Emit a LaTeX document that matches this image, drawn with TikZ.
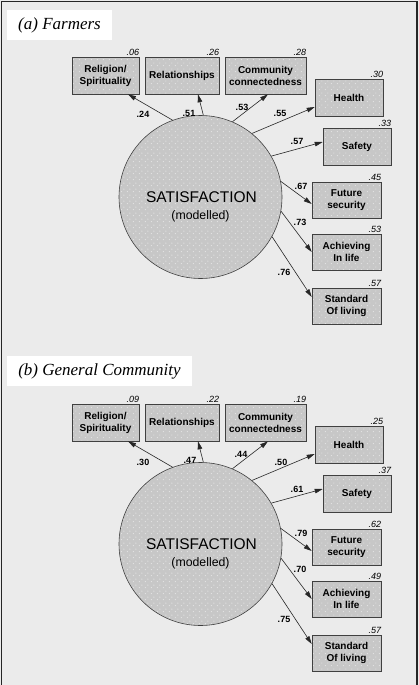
\documentclass[tikz,border=0pt]{standalone}
\usepackage{fontspec}
\setmainfont{Liberation Serif}
\setsansfont{Liberation Sans}
\usetikzlibrary{arrows.meta,patterns}
\pgfdeclarepatternformonly{sparsedots}{\pgfqpoint{0pt}{0pt}}{\pgfqpoint{6pt}{6pt}}{\pgfqpoint{6pt}{6pt}}{%
  \pgfpathcircle{\pgfqpoint{1.5pt}{1.5pt}}{0.6pt}%
  \pgfpathcircle{\pgfqpoint{4.5pt}{4.5pt}}{0.6pt}%
  \pgfusepath{fill}}
\begin{document}
\begin{tikzpicture}[x=1pt,y=-1pt,
  titlebox/.style={fill=white, draw=none, minimum height=30pt, inner sep=0pt, font=\fontsize{17}{20}\selectfont\itshape},
  obs/.style={draw=black!75, line width=0.6pt, preaction={fill=black!22}, pattern=sparsedots, pattern color=white!92!black, minimum height=37pt, inner sep=1pt, align=center, font=\sffamily\bfseries\fontsize{10}{12}\selectfont},
  lat/.style={circle, draw=black!75, line width=0.6pt, preaction={fill=black!22}, pattern=sparsedots, pattern color=white!92!black, minimum size=163pt, inner sep=0pt},
  bigtxt/.style={inner sep=0pt, font=\sffamily\fontsize{15.5}{18}\selectfont},
  smalltxt/.style={inner sep=0pt, font=\sffamily\fontsize{12.3}{14}\selectfont},
  rsq/.style={anchor=south east, inner sep=0pt, yshift=1.2pt, font=\sffamily\itshape\fontsize{9}{10}\selectfont},
  coef/.style={inner sep=0pt, font=\sffamily\bfseries\fontsize{9}{10}\selectfont},
  load/.style={-{Triangle[length=8pt,width=4.6pt]}, line width=0.6pt, black!85}]
\fill[black!8] (0,0) rectangle (419,685);
\useasboundingbox (0,0) rectangle (419,685);
\draw[black!85, line width=1.2pt] (1.5,685) -- (1.5,1.5) -- (417,1.5) -- (417,685);

% ---------------- Panel (a)
\begin{scope}
\node[titlebox, minimum width=105pt] (ta) at (59.5,25) {(a) Farmers};
\node[lat] (ac) at (200.5,197) {};
\node[bigtxt] (asat) at (201.5,197) {SATISFACTION};
\node[smalltxt] (amod) at (200.5,216) {(modelled)};
\node[obs, minimum width=67pt] (a1) at (105.5,75.5) {Religion/\\Spirituality};
\node[obs, minimum width=74pt] (a2) at (182,75.5) {Relationships};
\node[obs, minimum width=81pt] (a3) at (265.5,75.5) {Community\\connectedness};
\node[obs, minimum width=68pt] (a4) at (349,97.5) {Health};
\node[obs, minimum width=68pt] (a5) at (357,147) {Safety};
\node[obs, minimum width=69pt, minimum height=36pt] (a6) at (346.5,200) {Future\\security};
\node[obs, minimum width=69pt, minimum height=36pt] (a7) at (346.5,252) {Achieving\\In life};
\node[obs, minimum width=69pt, minimum height=36pt] (a8) at (346.5,306) {Standard\\Of living};
\node[rsq] (ar1) at (a1.north east) {.06};
\node[rsq] (ar2) at (a2.north east) {.26};
\node[rsq] (ar3) at (a3.north east) {.28};
\node[rsq] (ar4) at (a4.north east) {.30};
\node[rsq] (ar5) at (a5.north east) {.33};
\node[rsq] (ar6) at (a6.north east) {.45};
\node[rsq] (ar7) at (a7.north east) {.53};
\node[rsq] (ar8) at (a8.north east) {.57};
\draw[load] (ac.110.6) -- ([xshift=22.5pt]a1.south);
\draw[load] (ac.88.9) -- ([xshift=16pt]a2.south);
\draw[load] (ac.67.7) -- ([xshift=2.5pt]a3.south);
\draw[load] (ac.51.4) -- ([yshift=-9.5pt]a4.west);
\draw[load] (ac.30.9) -- ([yshift=5pt]a5.west);
\draw[load] (ac.11.4) -- ([yshift=-4pt]a6.west);
\draw[load] (ac.-10.6) -- (a7.west);
\draw[load] (ac.-29.2) -- ([yshift=9pt]a8.west);
\node[coef] (ac1) at (143,114) {.24};
\node[coef] (ac2) at (189,113) {.51};
\node[coef] (ac3) at (242,107) {.53};
\node[coef] (ac4) at (280,113) {.55};
\node[coef] (ac5) at (297,141) {.57};
\node[coef] (ac6) at (301,186) {.67};
\node[coef] (ac7) at (300,222) {.73};
\node[coef] (ac8) at (284,272) {.76};
\end{scope}

% ---------------- Panel (b)
\begin{scope}[shift={(0,347)}]
\node[titlebox, minimum width=185pt] (tb) at (99.5,24) {(b) General Community};
\node[lat] (bc) at (200.5,197) {};
\node[bigtxt] (bsat) at (201.5,197) {SATISFACTION};
\node[smalltxt] (bmod) at (200.5,216) {(modelled)};
\node[obs, minimum width=67pt] (b1) at (105.5,75.5) {Religion/\\Spirituality};
\node[obs, minimum width=74pt] (b2) at (182,75.5) {Relationships};
\node[obs, minimum width=81pt] (b3) at (265.5,75.5) {Community\\connectedness};
\node[obs, minimum width=68pt] (b4) at (349,97.5) {Health};
\node[obs, minimum width=68pt] (b5) at (357,147) {Safety};
\node[obs, minimum width=69pt, minimum height=36pt] (b6) at (346.5,200) {Future\\security};
\node[obs, minimum width=69pt, minimum height=36pt] (b7) at (346.5,252) {Achieving\\In life};
\node[obs, minimum width=69pt, minimum height=36pt] (b8) at (346.5,306) {Standard\\Of living};
\node[rsq] (br1) at (b1.north east) {.09};
\node[rsq] (br2) at (b2.north east) {.22};
\node[rsq] (br3) at (b3.north east) {.19};
\node[rsq] (br4) at (b4.north east) {.25};
\node[rsq] (br5) at (b5.north east) {.37};
\node[rsq] (br6) at (b6.north east) {.62};
\node[rsq] (br7) at (b7.north east) {.49};
\node[rsq] (br8) at (b8.north east) {.57};
\draw[load] (bc.110.6) -- ([xshift=22.5pt]b1.south);
\draw[load] (bc.88.9) -- ([xshift=16pt]b2.south);
\draw[load] (bc.67.7) -- ([xshift=2.5pt]b3.south);
\draw[load] (bc.51.4) -- ([yshift=-9.5pt]b4.west);
\draw[load] (bc.30.9) -- ([yshift=5pt]b5.west);
\draw[load] (bc.11.4) -- ([yshift=-4pt]b6.west);
\draw[load] (bc.-10.6) -- (b7.west);
\draw[load] (bc.-29.2) -- ([yshift=9pt]b8.west);
\node[coef] (bc1) at (143,115) {.30};
\node[coef] (bc2) at (190,113) {.47};
\node[coef] (bc3) at (241,107) {.44};
\node[coef] (bc4) at (281,115) {.50};
\node[coef] (bc5) at (297,142) {.61};
\node[coef] (bc6) at (301,186) {.79};
\node[coef] (bc7) at (300,222) {.70};
\node[coef] (bc8) at (284,272) {.75};
\end{scope}
\end{tikzpicture}
\end{document}
